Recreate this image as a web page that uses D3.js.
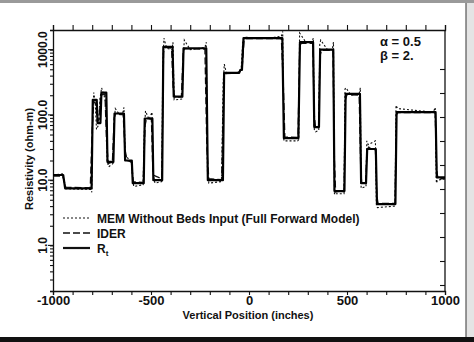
<!DOCTYPE html>
<html>
<head>
<meta charset="utf-8">
<script src="https://cdn.jsdelivr.net/npm/d3@7"></script>
<style>
  body { margin: 0; background: #fff; }
  svg { display: block; }
  text { font-family: "Liberation Sans", Arial, Helvetica, sans-serif; font-weight: bold; fill: #111; }
</style>
</head>
<body>
<svg id="chart" width="474" height="342"></svg>
<script>
// True formation resistivity (blocky bed model), [depth in inches, ohm-m]
const rtPoints = [
  [-1000, 12], [-948, 12], [-938, 7.5], [-803, 7.5], [-797, 170], [-777, 170],
  [-772, 75], [-758, 75], [-753, 220], [-728, 220], [-722, 19], [-692, 19],
  [-686, 105], [-638, 105], [-632, 20], [-598, 20], [-593, 9], [-537, 9],
  [-532, 88], [-493, 88], [-488, 10], [-443, 10], [-437, 1100], [-390, 1100],
  [-384, 190], [-340, 190], [-334, 1050], [-218, 1050], [-210, 10], [-133, 10],
  [-127, 440], [-50, 440], [-44, 490], [-36, 490], [-28, 1500], [170, 1500],
  [178, 44], [252, 44], [260, 1300], [327, 1300], [333, 65], [357, 65],
  [363, 1000], [430, 1000], [436, 6.8], [487, 6.8], [493, 210], [566, 210],
  [572, 9], [597, 9], [603, 30], [647, 30], [653, 4.3], [747, 4.3],
  [753, 110], [952, 110], [958, 11], [1000, 11]
];

// IDER inversion result
const iderPoints = [
  [-1000, 11.5], [-950, 11.5], [-935, 7.8], [-810, 7.6], [-800, 60], [-792, 160],
  [-782, 150], [-774, 80], [-765, 85], [-757, 200], [-735, 210], [-727, 40],
  [-718, 18], [-697, 19], [-688, 90], [-680, 105], [-642, 100], [-633, 30],
  [-622, 20], [-600, 19], [-590, 9.5], [-540, 9.2], [-530, 70], [-522, 90],
  [-498, 85], [-490, 12], [-445, 10.5], [-436, 900], [-428, 1080], [-395, 1050],
  [-387, 250], [-378, 185], [-345, 190], [-336, 900], [-328, 1030], [-225, 1020],
  [-215, 30], [-205, 10.5], [-140, 10.2], [-128, 380], [-120, 430], [-55, 440],
  [-45, 480], [-35, 520], [-25, 1400], [-15, 1480], [165, 1480], [175, 300],
  [183, 46], [250, 45], [258, 900], [265, 1250], [325, 1250], [333, 100],
  [340, 62], [355, 65], [362, 800], [370, 980], [428, 970], [436, 20],
  [442, 6.6], [485, 7], [492, 170], [500, 205], [562, 200], [570, 15],
  [575, 9], [595, 9.5], [602, 28], [610, 32], [645, 29], [652, 6],
  [658, 4.4], [745, 4.4], [752, 100], [760, 108], [950, 108], [957, 15],
  [964, 10.5], [1000, 10.5]
];

// MEM without beds input (full forward model)
const memPoints = [
  [-1000, 12], [-952, 12.5], [-945, 10], [-935, 7.4], [-805, 7.2], [-802, 6.5],
  [-797, 120], [-792, 220], [-785, 160], [-778, 60], [-768, 70], [-760, 180],
  [-752, 260], [-740, 200], [-730, 150], [-724, 20], [-716, 16], [-694, 18],
  [-688, 80], [-682, 125], [-660, 100], [-645, 105], [-638, 130], [-632, 25],
  [-600, 18], [-593, 10], [-588, 8], [-540, 8.5], [-535, 50], [-528, 115],
  [-510, 85], [-495, 110], [-488, 12], [-480, 9], [-445, 9.5], [-440, 600],
  [-434, 1500], [-420, 1050], [-392, 1000], [-388, 1300], [-382, 170], [-376, 170],
  [-340, 175], [-336, 700], [-330, 1400], [-300, 1000], [-225, 1080], [-218, 1300],
  [-212, 13], [-205, 9], [-140, 9.5], [-132, 300], [-126, 600], [-115, 430],
  [-48, 450], [-40, 520], [-32, 1300], [-25, 1550], [100, 1500], [165, 1600],
  [172, 1900], [178, 40], [185, 40], [248, 40], [254, 42], [258, 1800],
  [264, 1700], [290, 1300], [322, 1300], [328, 1500], [333, 60], [340, 55],
  [356, 58], [361, 1200], [366, 1400], [400, 1000], [425, 1000], [431, 1300],
  [436, 6], [442, 6.2], [485, 6.2], [490, 250], [495, 260], [520, 200],
  [562, 210], [568, 260], [572, 7.5], [597, 8], [601, 40], [608, 35],
  [645, 40], [650, 4], [655, 3.8], [745, 4], [750, 140], [758, 125],
  [940, 110], [950, 130], [956, 9], [962, 10], [1000, 10.5]
];

const xTickValues = d3.range(-1000, 1001, 100);
const xLabelValues = [-1000, -500, 0, 500, 1000];
const yLabelValues = [1, 10, 100, 1000];
const legendItems = [
  { label: "MEM Without Beds Input  (Full Forward Model)", dash: "2,2", width: 1.1 },
  { label: "IDER", dash: "7,3", width: 1.3 },
  { label: "R", sub: "t", dash: null, width: 2.2 }
];
const annotations = ["\u03b1 = 0.5", "\u03b2 = 2."];

const svg = d3.select("#chart");
const W = 474, H = 342;
const margin = { left: 53, right: 29, top: 30, bottom: 51 };
const pw = W - margin.left - margin.right;
const ph = H - margin.top - margin.bottom;

// scanned-page frame edges
svg.append("rect").attr("x", 0).attr("y", 0).attr("width", W).attr("height", 3).attr("fill", "#9a9a9a");
svg.append("rect").attr("x", 0).attr("y", 337).attr("width", W).attr("height", 5).attr("fill", "#111");
svg.append("rect").attr("x", 466).attr("y", 3).attr("width", 8).attr("height", 334).attr("fill", "#e4e4e4");
svg.append("line").attr("x1", 466).attr("x2", 466).attr("y1", 3).attr("y2", 337).attr("stroke", "#555").attr("stroke-width", 1.2);

const g = svg.append("g").attr("transform", `translate(${margin.left},${margin.top})`);

const x = d3.scaleLinear().domain([-1000, 1000]).range([0, pw]);
const y = d3.scaleLog().domain([0.2, 2000]).range([ph, 0]);

svg.append("defs").append("clipPath").attr("id", "plot")
  .append("rect").attr("width", pw).attr("height", ph);

// bottom axis (hyphen-minus labels)
const bottom = g.append("g").attr("transform", `translate(0,${ph})`)
  .call(d3.axisBottom(x).tickValues(xTickValues).tickSize(4)
    .tickFormat(d => xLabelValues.includes(d) ? String(d) : ""));
bottom.selectAll("text").attr("font-size", 13).attr("dy", "0.72em").attr("y", 5);

// top axis
g.append("g").call(d3.axisTop(x).tickValues(xTickValues).tickSize(5).tickFormat(""));

// left axis (log, minor ticks)
g.append("g").call(d3.axisLeft(y).tickValues(y.ticks()).tickSize(3).tickFormat(""));
const leftMajor = g.append("g")
  .call(d3.axisLeft(y).tickValues(yLabelValues).tickSize(5).tickFormat(d3.format(".1f")));
leftMajor.select(".domain").remove();
leftMajor.selectAll(".tick").attr("transform", null);
leftMajor.selectAll(".tick line").attr("y1", d => y(d)).attr("y2", d => y(d));
leftMajor.selectAll("text")
  .attr("font-size", 12)
  .attr("transform", "rotate(-90)")
  .attr("text-anchor", "middle")
  .attr("x", d => -y(d))
  .attr("y", -6)
  .attr("dy", 0);

// right axis: plain ticks pointing inward
const yr = d3.scaleLinear().domain([0, 10]).range([ph - 6, 15]);
g.append("g").attr("transform", `translate(${pw},0)`)
  .call(d3.axisLeft(yr).tickValues(d3.range(0, 10)).tickSize(5).tickFormat(""))
  .select(".domain").attr("d", `M0,0V${ph}`);

g.selectAll(".domain").attr("stroke", "#111").attr("stroke-width", 1.3);
g.selectAll(".tick line").attr("stroke", "#111").attr("stroke-width", 1.1);

// axis titles
svg.append("text").attr("x", 248).attr("y", 319).attr("text-anchor", "middle")
  .attr("font-size", 11).text("Vertical Position (inches)");
svg.append("text").attr("transform", "translate(33,159) rotate(-90)").attr("text-anchor", "middle")
  .attr("font-size", 11).text("Resistivity (ohm-m)");

// curves
const line = d3.line().x(d => x(d[0])).y(d => y(d[1]));
const plot = g.append("g").attr("clip-path", "url(#plot)");
plot.append("path").datum(memPoints).attr("d", line)
  .attr("fill", "none").attr("stroke", "#111").attr("stroke-width", 1.1).attr("stroke-dasharray", "2,2");
plot.append("path").datum(iderPoints).attr("d", line)
  .attr("fill", "none").attr("stroke", "#111").attr("stroke-width", 1.3).attr("stroke-dasharray", "7,3");
plot.append("path").datum(rtPoints).attr("d", line)
  .attr("fill", "none").attr("stroke", "#000").attr("stroke-width", 2.2).attr("stroke-linejoin", "round");

// legend
const lg = svg.append("g").attr("transform", "translate(63,218)");
legendItems.forEach((it, i) => {
  const row = lg.append("g").attr("transform", `translate(0,${i * 15})`);
  row.append("line").attr("x1", 0).attr("x2", 27).attr("y1", 0).attr("y2", 0)
    .attr("stroke", "#111").attr("stroke-width", it.width)
    .attr("stroke-dasharray", it.dash);
  const t = row.append("text").attr("x", 34).attr("y", 4.5).attr("font-size", 12).text(it.label);
  if (it.sub) t.append("tspan").attr("font-size", 8).attr("dy", 3).text(it.sub);
});

// parameter annotation
annotations.forEach((a, i) => {
  svg.append("text").attr("x", 380).attr("y", 46 + i * 14).attr("font-size", 13).text(a);
});
</script>
</body>
</html>
